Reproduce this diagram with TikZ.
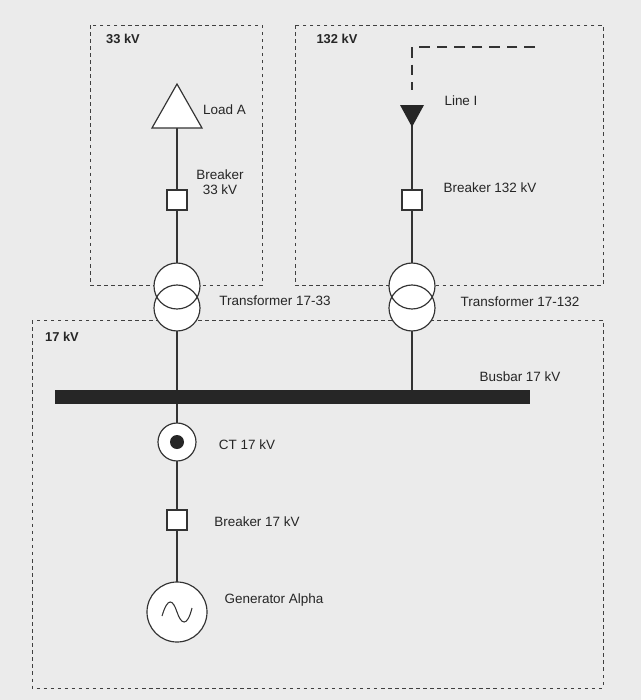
\documentclass[tikz,border=0pt]{standalone}
\usepackage{fontspec}
\setmainfont{Liberation Sans}
\begin{document}
\begin{tikzpicture}[x=0.03cm,y=-0.03cm,
  box/.style={draw=black!75,dashed,line width=0.7pt},
  lbl/.style={font=\fontsize{11.5}{13}\selectfont,text=black!85,inner sep=0},
  head/.style={font=\fontsize{11}{13}\selectfont\bfseries,text=black!85,inner sep=0},
  wire/.style={draw=black!80,line width=1pt},
  sym/.style={draw=black!80,line width=1pt,fill=white}]
\fill[black!8] (0,0) rectangle (641,700);
\useasboundingbox (0,0) rectangle (641,700);
% boxes
\draw[box] (90,25) rectangle (262,285);
\draw[box] (295,25) rectangle (603,285);
\draw[box] (32,320) rectangle (603,688);
\node[head] (h33) at (123,39) {33 kV};
\node[head] (h132) at (337,39) {132 kV};
\node[head] (h17) at (62,337) {17 kV};
% coordinates
\coordinate (la) at (177,128);
\coordinate (bb2) at (412,397);
\coordinate (dtop) at (412,47);
\coordinate (dend) at (535,47);
\coordinate (dlow) at (412,90);
% wires
\draw[wire] (la) -- (177,642);
\draw[wire] (412,110) -- (bb2);
\draw[wire,dashed,dash pattern=on 9pt off 6pt] (dend) -- (dtop) -- (dlow);
% busbar
\fill[black!85] (55,390) rectangle (530,404);
% load triangle
\draw[sym] (152,128) -- (202,128) -- (177,84) -- cycle;
\node[lbl,anchor=west] (lA) at (203,110) {Load A};
% line I arrow
\fill[black!85] (400,105) -- (424,105) -- (412,127) -- cycle;
\node[lbl] (lI) at (461,101) {Line I};
% breakers
\draw[sym] (167,190) rectangle (187,210);
\node[lbl,align=center] (b33) at (220,182) {Breaker\\33 kV};
\draw[sym] (402,190) rectangle (422,210);
\node[lbl] (b132) at (490,188) {Breaker 132 kV};
% transformers
\foreach \x in {177,412}{
  \fill[white] (\x,286) circle (23);
  \fill[white] (\x,308) circle (23);
  \draw[draw=black!80,line width=1pt] (\x,286) circle (23);
  \draw[draw=black!80,line width=1pt] (\x,308) circle (23);
}
\node[lbl] (t1) at (275,301) {Transformer 17-33};
\node[lbl] (t2) at (520,302) {Transformer 17-132};
\node[lbl] (bus) at (520,377) {Busbar 17 kV};
% CT
\draw[sym] (177,442) circle (19);
\fill[black!85] (177,442) circle (7);
\node[lbl] (ct) at (247,445) {CT 17 kV};
% breaker 17
\draw[sym] (167,510) rectangle (187,530);
\node[lbl] (b17) at (257,522) {Breaker 17 kV};
% generator
\draw[sym] (177,612) circle (30);
\draw[line width=0.9pt,black!80] (162,616) .. controls (168,596) and (173,600) .. (177,612) .. controls (181,624) and (187,628) .. (192,608);
\node[lbl] (gen) at (274,600) {Generator Alpha};
\end{tikzpicture}
\end{document}
